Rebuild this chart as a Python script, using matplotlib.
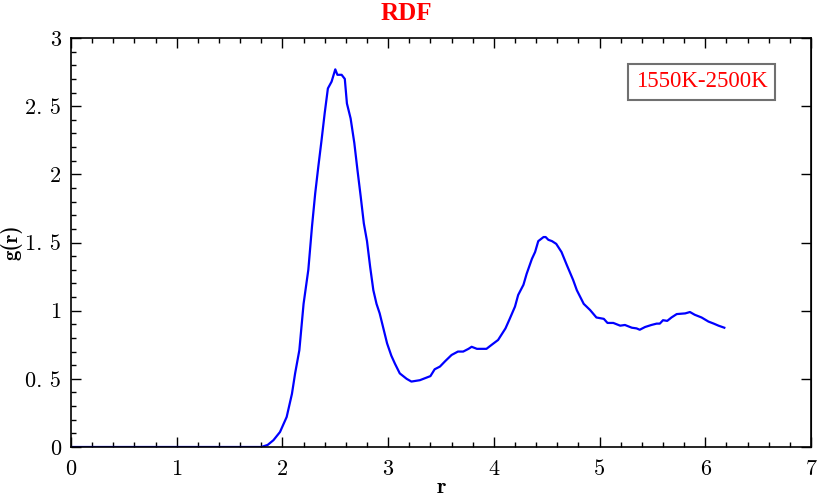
import matplotlib
matplotlib.use("Agg")
import matplotlib.pyplot as plt
from matplotlib.ticker import MultipleLocator, FuncFormatter

plt.rcParams["font.family"] = ["cmr10", "DejaVu Serif"]
plt.rcParams["mathtext.fontset"] = "cm"
plt.rcParams["axes.formatter.use_mathtext"] = True

# ── Data ──────────────────────────────────────────────────────────────────────
r = [0.00, 1.80, 1.86, 1.915, 1.977, 2.04, 2.09, 2.12, 2.16, 2.20, 2.245,
     2.28, 2.31, 2.34, 2.37, 2.40, 2.43, 2.465, 2.50, 2.52, 2.56, 2.59,
     2.61, 2.645, 2.68, 2.71, 2.74, 2.77, 2.80, 2.83, 2.86, 2.89, 2.92,
     2.955, 2.99, 3.03, 3.065, 3.11, 3.175, 3.22, 3.30, 3.40, 3.44, 3.49,
     3.54, 3.60, 3.66, 3.71, 3.76, 3.79, 3.84, 3.93, 3.98, 4.04, 4.11,
     4.15, 4.20, 4.23, 4.28, 4.31, 4.36, 4.39, 4.42, 4.47, 4.49, 4.515,
     4.55, 4.59, 4.64, 4.69, 4.75, 4.785, 4.85, 4.91, 4.97, 5.04, 5.075,
     5.13, 5.195, 5.24, 5.305, 5.35, 5.38, 5.43, 5.49, 5.54, 5.57, 5.60,
     5.64, 5.68, 5.73, 5.81, 5.855, 5.90, 5.965, 6.03, 6.08, 6.125, 6.18]
g = [0.00, 0.00, 0.015, 0.05, 0.11, 0.22, 0.39, 0.54, 0.71, 1.05, 1.30,
     1.62, 1.86, 2.06, 2.25, 2.45, 2.63, 2.68, 2.77, 2.73, 2.73, 2.70,
     2.52, 2.41, 2.23, 2.03, 1.84, 1.64, 1.51, 1.32, 1.15, 1.05, 0.98,
     0.87, 0.76, 0.67, 0.61, 0.54, 0.50, 0.48, 0.49, 0.52, 0.57, 0.59,
     0.63, 0.675, 0.70, 0.70, 0.72, 0.735, 0.72, 0.72, 0.75, 0.785, 0.87,
     0.94, 1.03, 1.115, 1.19, 1.27, 1.38, 1.43, 1.51, 1.54, 1.54, 1.52,
     1.51, 1.49, 1.43, 1.335, 1.225, 1.15, 1.05, 1.005, 0.95, 0.94, 0.91,
     0.91, 0.89, 0.895, 0.875, 0.87, 0.86, 0.88, 0.895, 0.905, 0.905, 0.93,
     0.925, 0.95, 0.975, 0.98, 0.99, 0.97, 0.95, 0.92, 0.905, 0.89, 0.875]

TITLE  = "RDF"
LABEL  = "1550K-2500K"
XLABEL = "r"
YLABEL = "g(r)"

# ── Figure ────────────────────────────────────────────────────────────────────
fig = plt.figure(figsize=(8.18, 4.98), dpi=100)
ax = fig.add_axes([71 / 818, 1 - 447 / 498, 740 / 818, 409 / 498])

ax.plot(r, g, color="#0000ff", lw=1.6)

ax.set_xlim(0, 7)
ax.set_ylim(0, 3)

ax.xaxis.set_major_locator(MultipleLocator(1))
ax.xaxis.set_minor_locator(MultipleLocator(0.2))
ax.yaxis.set_major_locator(MultipleLocator(0.5))
ax.yaxis.set_minor_locator(MultipleLocator(0.1))

fmt = FuncFormatter(lambda v, pos: f"{v:g}".replace(".", ". "))
ax.xaxis.set_major_formatter(fmt)
ax.yaxis.set_major_formatter(fmt)

ax.tick_params(which="both", direction="in", top=True, right=False,
               width=1.0, colors="black")
ax.tick_params(which="major", length=7, labelsize=16)
ax.tick_params(axis="x", which="major", pad=9)
ax.tick_params(axis="y", which="major", pad=7)
ax.tick_params(which="minor", length=3.6)

# right axis: major ticks only
sec = ax.secondary_yaxis("right")
sec.yaxis.set_major_locator(MultipleLocator(0.5))
sec.tick_params(direction="in", length=7, width=1.0, labelright=False)

for s in ax.spines.values():
    s.set_linewidth(1.2)

ax.set_xlabel(XLABEL, family="cmb10", fontsize=16, labelpad=-1)
ax.set_ylabel(YLABEL, family="cmb10", fontsize=15, labelpad=2)
fig.text(406 / 818, 1 - 13 / 498, TITLE, ha="center", va="center",
         color="red", family="Liberation Serif", fontweight="bold", fontsize=18)

ax.text(0.852, 0.893, LABEL, transform=ax.transAxes, ha="center", va="center",
        color="red", family="Liberation Serif", fontsize=16.5,
        bbox=dict(boxstyle="square,pad=0.33", fc="white", ec="#707070", lw=1.5))

fig.savefig("out.png", dpi=100)
